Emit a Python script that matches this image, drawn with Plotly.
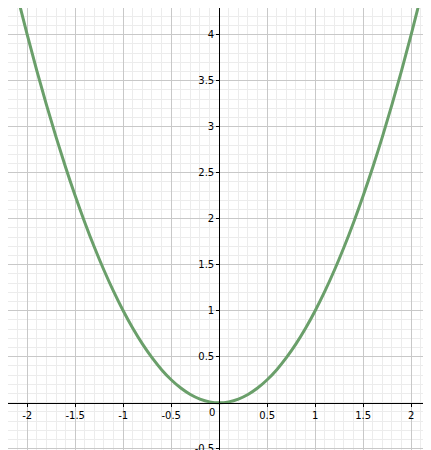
import plotly.graph_objects as go

x_vals = [-2.3,-2.2,-2.1,-2.0,-1.9,-1.8,-1.7,-1.6,-1.5,-1.4,-1.3,-1.2,-1.1,-1.0,-0.9,-0.8,-0.7,-0.6,-0.5,-0.4,-0.3,-0.2,-0.1,0.0,
          0.1,0.2,0.3,0.4,0.5,0.6,0.7,0.8,0.9,1.0,1.1,1.2,1.3,1.4,1.5,1.6,1.7,1.8,1.9,2.0,2.1,2.2,2.3]
y_vals = [5.29,4.84,4.41,4.0,3.61,3.24,2.89,2.56,2.25,1.96,1.69,1.44,1.21,1.0,0.81,0.64,0.49,0.36,0.25,0.16,0.09,0.04,0.01,0.0,
          0.01,0.04,0.09,0.16,0.25,0.36,0.49,0.64,0.81,1.0,1.21,1.44,1.69,1.96,2.25,2.56,2.89,3.24,3.61,4.0,4.41,4.84,5.29]
x_ticks = [-2,-1.5,-1,-0.5,0.5,1,1.5,2]
y_ticks = [-0.5,0.5,1,1.5,2,2.5,3,3.5,4]

fig = go.Figure(go.Scatter(x=x_vals, y=y_vals, mode="lines", line=dict(color="#6a9f6a", width=3, shape="spline")))
xr = [-2.2, 2.29]
yr = [-0.6, 4.29]
ax = dict(showgrid=True, gridcolor="#c8c8c8", gridwidth=1, zeroline=False,
          minor=dict(dtick=0.1, showgrid=True, gridcolor="#ececec", gridwidth=1),
          showline=True, linecolor="black", linewidth=1, ticks="outside", ticklen=3,
          tickcolor="black", tickfont=dict(size=10, color="black", family="DejaVu Sans"),
          automargin=False)
fig.update_layout(
    width=431, height=450, margin=dict(l=0, r=0, t=0, b=0, autoexpand=False),
    plot_bgcolor="white", paper_bgcolor="white", showlegend=False,
    xaxis=dict(range=xr, tickmode="array", tickvals=x_ticks, ticktext=[str(v) for v in x_ticks],
               anchor="free", position=(0 - yr[0]) / (yr[1] - yr[0]), **ax),
    yaxis=dict(range=yr, tickmode="array", tickvals=y_ticks, ticktext=[str(v) for v in y_ticks],
               anchor="free", position=(0 - xr[0]) / (xr[1] - xr[0]), **ax),
)
fig.add_annotation(x=0, y=0, text="0", showarrow=False, xanchor="right", yanchor="top",
                   xshift=-2, yshift=-2, font=dict(size=10, color="black", family="DejaVu Sans"))
fig.write_html("out.html")
